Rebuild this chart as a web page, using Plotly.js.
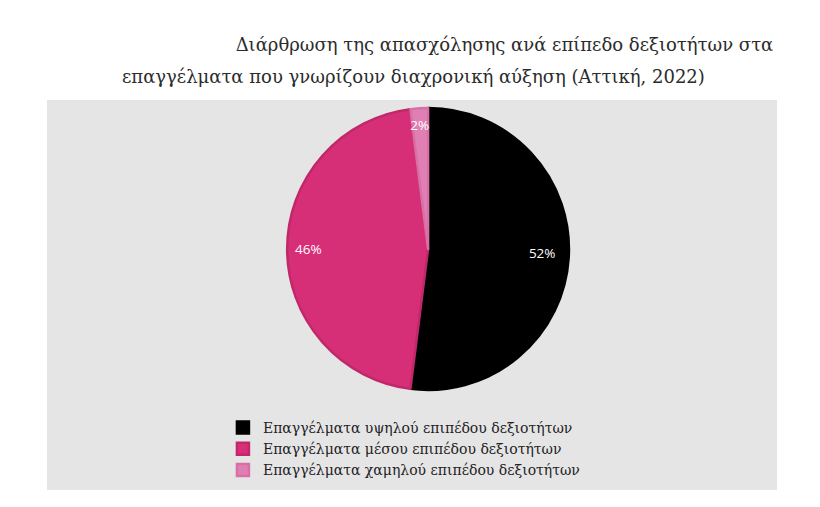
<!DOCTYPE html>
<html>
<head>
<meta charset="utf-8">
<script src="https://cdn.plot.ly/plotly-3.0.1.min.js"></script>
<style>
  html, body { margin: 0; padding: 0; background: #fff; }
  #myPlot { width: 820px; height: 507px; }
</style>
</head>
<body>
<div id="myPlot"></div>
<script>
// data
var skillLevels = [
    'Επαγγέλματα υψηλού επιπέδου δεξιοτήτων',
    'Επαγγέλματα μέσου επιπέδου δεξιοτήτων',
    'Επαγγέλματα χαμηλού επιπέδου δεξιοτήτων'
];
var shares = [52, 46, 2];
var titleLine1 = 'Διάρθρωση της απασχόλησης ανά επίπεδο δεξιοτήτων στα';
var titleLine2 = 'επαγγέλματα που γνωρίζουν διαχρονική αύξηση (Αττική, 2022)';

function renderPie() {
    // padding pushes the labels out toward the rim, like the original
    let padR = '\u00a0'.repeat(25);
    let padL = '\u00a0'.repeat(28);
    let trace = {
        type: 'pie',
        labels: skillLevels,
        values: shares,
        sort: false,
        direction: 'clockwise',
        rotation: 0,
        marker: {
            colors: ['#000000', '#d62f78', '#e07fb3'],
            line: { color: ['#000000', '#c0286a', '#d870a6'], width: 2.5 }
        },
        texttemplate: [padR + '%{value}%', '%{value}%' + padL, '\u00a0<br>%{value}%'],
        textposition: 'inside',
        insidetextorientation: 'horizontal',
        textfont: { family: 'Open Sans', size: 13.5, color: '#ffffff' },
        hoverinfo: 'label+percent',
        domain: { x: [0.329, 0.715], y: [0.256, 0.98] }
    };

    let layout = {
        width: 820,
        height: 507,
        margin: { l: 47, r: 43, t: 100, b: 17 },
        paper_bgcolor: '#ffffff',
        uniformtext: { mode: 'show', minsize: 13.5 },
        title: {
            text: titleLine1,
            xref: 'container', yref: 'container',
            x: 0.943, xanchor: 'right',
            y: 0.911, yanchor: 'middle',
            font: { family: 'DejaVu Serif', size: 18, color: '#2b2b2b' }
        },
        annotations: [{
            text: titleLine2,
            xref: 'paper', yref: 'paper',
            x: 0.904, xanchor: 'right',
            y: 1.0615, yanchor: 'middle',
            showarrow: false,
            font: { family: 'DejaVu Serif', size: 18, color: '#2b2b2b' }
        }],
        shapes: [{
            type: 'rect', xref: 'paper', yref: 'paper',
            x0: 0, x1: 1, y0: 0, y1: 1,
            fillcolor: '#e6e5e6', line: { width: 0 }, layer: 'below'
        }],
        showlegend: true,
        legend: {
            orientation: 'v',
            x: 0.241, xanchor: 'left',
            y: 0.2, yanchor: 'top',
            bgcolor: 'rgba(0,0,0,0)',
            font: { family: 'DejaVu Serif', size: 14, color: '#222222' }
        }
    };

    Plotly.newPlot('myPlot', [trace], layout, { displayModeBar: false, staticPlot: true });
}

renderPie();
</script>
</body>
</html>
